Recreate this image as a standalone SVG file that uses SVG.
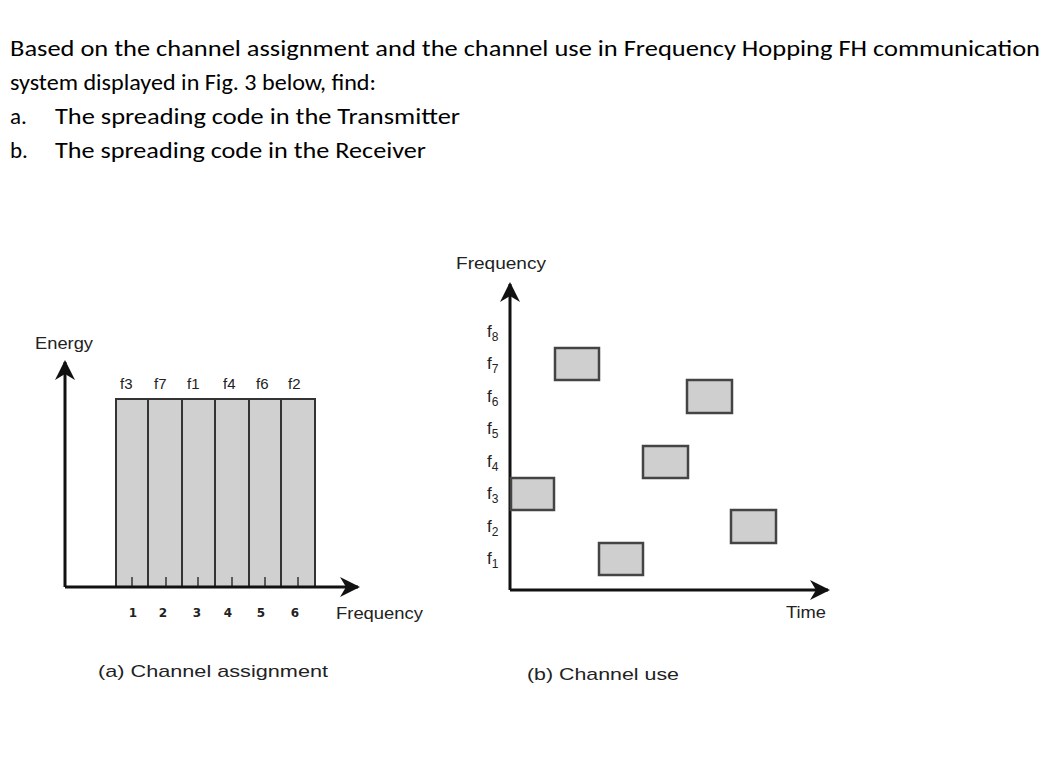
<svg xmlns="http://www.w3.org/2000/svg" width="1048" height="768" viewBox="0 0 1048 768">
<style>
.q{font-family:Calibri,"Carlito","Liberation Sans",sans-serif;font-size:23px;fill:#000}
.l{font-family:"Liberation Sans",Arial,sans-serif;font-size:17px;fill:#222}
.s{font-family:"Liberation Sans",Arial,sans-serif;font-size:15px;fill:#222}
.n{font-family:"DejaVu Sans",sans-serif;font-size:12px;font-weight:bold;fill:#222}
.bar{fill:#d0d0d0;stroke:#333;stroke-width:2}
.box{fill:#cfcfcf;stroke:#444;stroke-width:2.5}
.ax{stroke:#111;stroke-width:3;fill:none}
</style>
<defs>
<marker id="a" viewBox="0 0 10 10" refX="9" refY="5" markerWidth="20" markerHeight="20" markerUnits="userSpaceOnUse" orient="auto"><path d="M0,0 L10,5 L0,10 L3,5 Z" fill="#111"/></marker></defs>
<rect width="1048" height="768" fill="#fff"/>
<text class="q" x="10" y="56" textLength="1030" lengthAdjust="spacingAndGlyphs">Based on the channel assignment and the channel use in Frequency Hopping FH communication</text>
<text class="q" x="10" y="90" textLength="366" lengthAdjust="spacingAndGlyphs">system displayed in Fig. 3 below, find:</text>
<text class="q" x="10" y="124">a.</text><text class="q" x="55" y="124" textLength="405" lengthAdjust="spacingAndGlyphs">The spreading code in the Transmitter</text>
<text class="q" x="10" y="158">b.</text><text class="q" x="55" y="158" textLength="371" lengthAdjust="spacingAndGlyphs">The spreading code in the Receiver</text>
<g id="panel-a">
<rect class="bar" x="116" y="399" width="199" height="188"/>
<g stroke="#333" stroke-width="2"><line x1="148" y1="399" x2="148" y2="587"/><line x1="182" y1="399" x2="182" y2="587"/><line x1="215" y1="399" x2="215" y2="587"/><line x1="249" y1="399" x2="249" y2="587"/><line x1="281" y1="399" x2="281" y2="587"/></g>
<g stroke="#333" stroke-width="1.5"><line x1="132" y1="577" x2="132" y2="587"/><line x1="166" y1="577" x2="166" y2="587"/><line x1="198" y1="577" x2="198" y2="587"/><line x1="232" y1="577" x2="232" y2="587"/><line x1="265" y1="577" x2="265" y2="587"/><line x1="298" y1="577" x2="298" y2="587"/></g>
<path class="ax" d="M65,587 V362" marker-end="url(#a)"/>
<path class="ax" d="M65,587 H358" marker-end="url(#a)"/>
<text class="l" x="35" y="349" textLength="58" lengthAdjust="spacingAndGlyphs">Energy</text>
<text class="s" x="120" y="389">f3</text><text class="s" x="154" y="389">f7</text><text class="s" x="187" y="389">f1</text><text class="s" x="223" y="389">f4</text><text class="s" x="256" y="389">f6</text><text class="s" x="288" y="389">f2</text>
<g class="n" text-anchor="middle"><text x="133" y="617">1</text><text x="163" y="617">2</text><text x="197" y="617">3</text><text x="228" y="617">4</text><text x="261" y="617">5</text><text x="295" y="617">6</text></g>
<text class="l" x="336" y="619" textLength="87" lengthAdjust="spacingAndGlyphs">Frequency</text>
<text class="l" x="98" y="677" font-size="19" textLength="230" lengthAdjust="spacingAndGlyphs">(a) Channel assignment</text>
</g>
<g id="panel-b">
<path class="ax" d="M510,590 V284" marker-end="url(#a)"/>
<path class="ax" d="M510,590 H828" marker-end="url(#a)"/>
<text class="l" x="456" y="269" textLength="90" lengthAdjust="spacingAndGlyphs">Frequency</text>
<g class="l" font-size="17"><text x="487" y="337">f<tspan font-size="12" dy="4">8</tspan></text><text x="487" y="369">f<tspan font-size="12" dy="4">7</tspan></text><text x="487" y="402">f<tspan font-size="12" dy="4">6</tspan></text><text x="487" y="434">f<tspan font-size="12" dy="4">5</tspan></text><text x="487" y="467">f<tspan font-size="12" dy="4">4</tspan></text><text x="487" y="499">f<tspan font-size="12" dy="4">3</tspan></text><text x="487" y="532">f<tspan font-size="12" dy="4">2</tspan></text><text x="487" y="564">f<tspan font-size="12" dy="4">1</tspan></text></g>
<rect class="box" x="511" y="478" width="43" height="32"/>
<rect class="box" x="555" y="348" width="44" height="32"/>
<rect class="box" x="599" y="543" width="44" height="32"/>
<rect class="box" x="643" y="446" width="45" height="32"/>
<rect class="box" x="687" y="380" width="45" height="33"/>
<rect class="box" x="731" y="510" width="45" height="33"/>
<text class="l" x="786" y="618" textLength="40" lengthAdjust="spacingAndGlyphs">Time</text>
<text class="l" x="527" y="680" font-size="19" textLength="152" lengthAdjust="spacingAndGlyphs">(b) Channel use</text>
</g>
</svg>
